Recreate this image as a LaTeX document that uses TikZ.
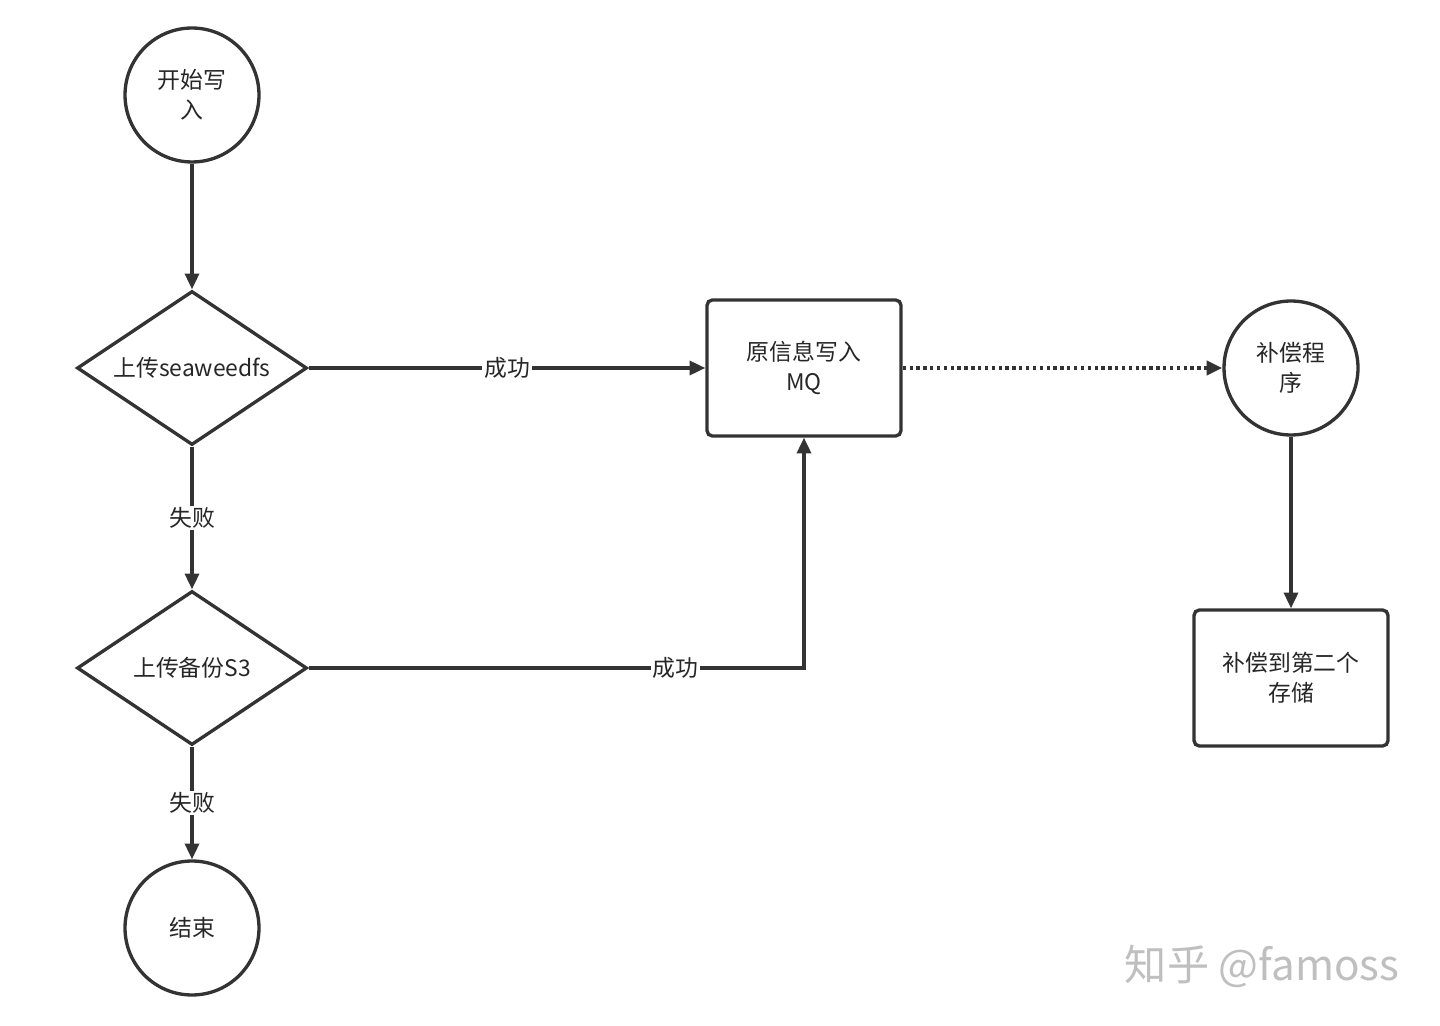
\documentclass[tikz,border=0pt]{standalone}
\usepackage{fontspec}
\setmainfont{Noto Sans CJK SC}
\usetikzlibrary{shapes.geometric,arrows.meta}
\begin{document}
\begin{tikzpicture}[x=0.02cm,y=-0.02cm,
  every node/.style={font=\fontsize{13}{17}\selectfont,text=black!85},
  ln/.style={line width=1.9pt,draw=black!80},
  arr/.style={ln,-{Triangle[length=9pt,width=8pt]}},
  circ/.style={ln,circle,minimum size=2.68cm,inner sep=0pt,align=center,text width=2cm},
  dia/.style={ln,diamond,minimum width=4.6cm,minimum height=3.08cm,inner sep=0pt,aspect=1.5},
  box/.style={ln,rounded corners=3pt,minimum width=3.88cm,minimum height=2.72cm,align=center,text width=3.2cm},
  lab/.style={fill=white,inner sep=1pt}]
\useasboundingbox (0,0) rectangle (1440,1026);
\node[circ] (start) at (192,95) {开始写\\入};
\node[dia] (d1) at (192,368) {上传seaweedfs};
\node[dia] (d2) at (192,668) {上传备份S3};
\node[circ] (end) at (192,928) {结束};
\node[box] (mq) at (804,368) {原信息写入\\MQ};
\node[circ] (comp) at (1291,368) {补偿程\\序};
\node[box] (sec) at (1291,678) {补偿到第二个\\存储};
\draw[arr] (start) -- (d1);
\draw[arr] (d1) -- node[lab,pos=0.5]{成功} (mq);
\draw[arr] (d1) -- node[lab,pos=0.5]{失败} (d2);
\draw[arr] (d2) -| node[lab,pos=0.37]{成功} (mq);
\draw[arr] (d2) -- node[lab,pos=0.5]{失败} (end);
\draw[arr,dotted,line width=2.2pt] (mq) -- (comp);
\draw[arr] (comp) -- (sec);
\node[text=black!25,font=\fontsize{24}{28}\selectfont] (wm) at (1262,966) {知乎 @famoss};
\end{tikzpicture}
\end{document}
